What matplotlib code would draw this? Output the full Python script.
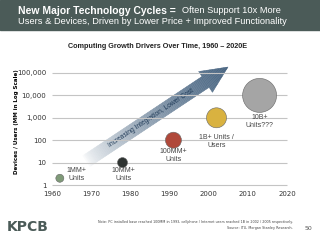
import numpy as np
import matplotlib.pyplot as plt
from matplotlib.patches import Rectangle
from matplotlib.collections import PolyCollection

# bubble data
years = [1962, 1978, 1991, 2002, 2013]
users = [2, 10, 100, 1000, 10000]
sizes = [8, 10, 16, 20, 34]  # approx diameters in px
colors = ['#7f9a78', '#2f3432', '#b0483a', '#d9b240', '#a5a5a5']
labels = ['1MM+\nUnits', '10MM+\nUnits', '100MM+\nUnits', '1B+ Units /\nUsers', '10B+\nUnits???']
label_pos = [(1966.2, 2.8), (1978.2, 2.8), (1991, 20), (2002, 85), (2013, 650)]
yticks = [1, 10, 100, 1000, 10000, 100000]
xticks = [1960, 1970, 1980, 1990, 2000, 2010, 2020]

W, H = 320, 240
fig = plt.figure(figsize=(3.2, 2.4), dpi=100)
fig.patch.set_facecolor('white')
sans = ['Liberation Sans', 'DejaVu Sans']

# overlay axes in pixel coords for header/footer and the arrow
deco = fig.add_axes([0, 0, 1, 1])
deco.axis('off')
deco.patch.set_visible(False)
deco.set_zorder(0)
deco.set_xlim(0, W)
deco.set_ylim(H, 0)
deco.add_patch(Rectangle((0, 0), W, 30, color='#4b5b58', zorder=0))
deco.text(18, 10.5, 'New Major Technology Cycles = ', color='white', fontsize=7.5,
          fontweight='bold', va='center', ha='left', family=sans)
deco.text(182, 10.5, 'Often Support 10x More', color='white', fontsize=6.7,
          va='center', ha='left', family=sans)
deco.text(18, 22, 'Users & Devices, Driven by Lower Price + Improved Functionality',
          color='white', fontsize=6.7, va='center', ha='left', family=sans)
deco.text(158, 46, 'Computing Growth Drivers Over Time, 1960 \u2013 2020E', fontsize=5.2,
          fontweight='bold', ha='center', va='center', color='#222222', family=sans)
deco.text(7, 227, 'KPCB', fontsize=10, fontweight='bold', color='#4b5b58',
          ha='left', va='center', family=['Liberation Sans Narrow', 'DejaVu Sans'])
deco.text(293, 225, 'Note: PC installed base reached 100MM in 1993, cellphone / Internet users reached 1B in 2002 / 2005 respectively.\nSource: ITU, Morgan Stanley Research.',
          fontsize=2.4, ha='right', va='center', color='#444444', linespacing=1.5)
deco.text(308, 228, '50', fontsize=4.5, ha='center', va='center', color='#555555')

# gradient arrow built from thin strips
tip = np.array([228.0, 67.0])
d = np.array([np.cos(np.deg2rad(33.6)), -np.sin(np.deg2rad(33.6))])
L = 170
tail = tip - d * L
n = np.array([-d[1], d[0]])
hw, sw, hl = 12.5, 6.5, 27
c0 = np.array([1.0, 1.0, 1.0])
c1 = np.array([0x46, 0x63, 0x80]) / 255

quads, fcols = [], []
shaft = np.linspace(0, L - hl, 80)
head = np.linspace(L - hl, L, 20)
for s0, s1 in zip(shaft[:-1], shaft[1:]):
    p0, p1 = tail + d * s0, tail + d * s1
    quads.append([p0 + n * sw, p1 + n * sw, p1 - n * sw, p0 - n * sw])
    t = (0.5 * (s0 + s1) / L) ** 0.65
    fcols.append(c0 * (1 - t) + c1 * t)
for s0, s1 in zip(head[:-1], head[1:]):
    w0, w1 = hw * (L - s0) / hl, hw * (L - s1) / hl
    p0, p1 = tail + d * s0, tail + d * s1
    quads.append([p0 + n * w0, p1 + n * w1, p1 - n * w1, p0 - n * w0])
    t = (0.5 * (s0 + s1) / L) ** 0.65
    fcols.append(c0 * (1 - t) + c1 * t)
deco.add_collection(PolyCollection(quads, facecolors=fcols, edgecolors=fcols,
                                   linewidths=0.3, zorder=2))
mid = tip - d * 92
deco.text(mid[0], mid[1], 'Increasing Integration, Lower Cost', fontsize=4.8, color='#1f3a57',
          rotation=33.6, ha='center', va='center', zorder=3, rotation_mode='anchor', family=sans)

ax = fig.add_axes([52 / W, 1 - 185 / H, (287 - 52) / W, (185 - 73) / H])
ax.set_zorder(3)
ax.set_yscale('log')
ax.set_xlim(1960, 2020)
ax.set_ylim(1, 100000)
ax.set_yticks(yticks)
ax.set_yticklabels([f'{v:,}' for v in yticks])
ax.set_xticks(xticks)
ax.minorticks_off()
ax.tick_params(length=0, labelsize=5, colors='#333333', pad=4)
for s in ax.spines.values():
    s.set_visible(False)
ax.hlines(yticks, 1960, 2020, colors='#c4c4c4', lw=0.8, zorder=2, clip_on=False)
ax.patch.set_alpha(0)
ax.set_ylabel('Devices / Users (MM in Log Scale)', fontsize=4.0, fontweight='bold')
ax.yaxis.set_label_coords(-33 / 235, 0.57)

ax.scatter(years, users, s=[(v * 0.72) ** 2 for v in sizes], c=colors,
           edgecolors='#666666', linewidths=0.4, zorder=4)
for (lx, ly), lab in zip(label_pos, labels):
    ax.text(lx, ly, lab, fontsize=5, ha='center', va='center', color='#444444', linespacing=1.2,
            family=sans)

fig.savefig('out.png', dpi=100)
